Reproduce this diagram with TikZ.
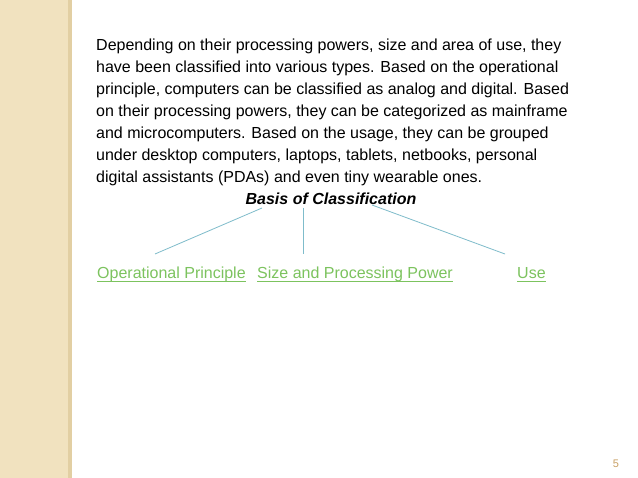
\documentclass[tikz,border=0pt]{standalone}
\usepackage{fontspec}
\setmainfont{Liberation Sans}
\definecolor{strip}{HTML}{F1E2BF}
\definecolor{stripedge}{HTML}{E2CFA3}
\definecolor{lnk}{HTML}{7CC35E}
\definecolor{conn}{HTML}{7FBCCB}
\definecolor{pnum}{HTML}{C9A064}
\tikzset{lbl/.style={anchor=base west,inner sep=0,text=lnk,font=\fontsize{16}{18}\selectfont},
 con/.style={draw=conn,line width=0.8pt},
 ul/.style={draw=lnk,line width=0.7pt}}
\begin{document}
\begin{tikzpicture}[x=1pt,y=-1pt]
\useasboundingbox (0,0) rectangle (638,478);
\fill[white] (0,0) rectangle (638,478);
\fill[strip] (0,0) rectangle (70,478);
\fill[stripedge] (68,0) rectangle (72,478);
\node[anchor=north west,inner sep=0,align=left,font=\fontsize{16}{22}\selectfont] (body) at (96,39)
{Depending on their processing powers, size and area of use, they\\
have been classified into various types. Based on the operational\\
principle, computers can be classified as analog and digital. Based\\
on their processing powers, they can be categorized as mainframe\\
and microcomputers. Based on the usage, they can be grouped\\
under desktop computers, laptops, tablets, netbooks, personal\\
digital assistants (PDAs) and even tiny wearable ones.};
\node[anchor=base,inner sep=0,font=\fontsize{16}{18}\selectfont\bfseries\itshape] (title) at (331,205) {Basis of Classification};
\node[lbl] (op) at (97,279) {Operational Principle};
\node[lbl] (sz) at (257,279) {Size and Processing Power};
\node[lbl] (use) at (517,279) {Use};
\foreach \n in {op,sz,use}
  \draw[ul] ([yshift=-2pt]\n.base west) -- ([yshift=-2pt]\n.base east);
\coordinate (a1) at (262,208); \coordinate (a2) at (155,254);
\coordinate (b1) at (303,208); \coordinate (b2) at (303,254);
\coordinate (c1) at (372,205); \coordinate (c2) at (505,254);
\draw[con] (a1) -- (a2);
\draw[con] (b1) -- (b2);
\draw[con] (c1) -- (c2);
\node[anchor=base,inner sep=0,text=pnum,font=\fontsize{11}{13}\selectfont] (pg) at (616,468) {5};
\end{tikzpicture}
\end{document}
